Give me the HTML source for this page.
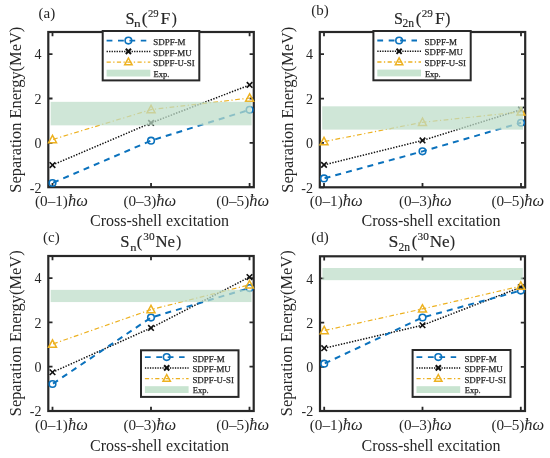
<!DOCTYPE html>
<html><head><meta charset="utf-8"><style>
html,body{margin:0;padding:0;background:#fff;}
body{width:550px;height:458px;overflow:hidden;}
svg{display:block;font-family:'Liberation Serif', serif;filter:blur(0.45px);}
</style></head><body>
<svg width="550" height="458" viewBox="0 0 550 458">
<rect width="550" height="458" fill="#fff"/>
<g>
<path d="M48.3 187.2h4.2M253.8 187.2h-4.2M48.3 142.86h4.2M253.8 142.86h-4.2M48.3 98.51h4.2M253.8 98.51h-4.2M48.3 54.17h4.2M253.8 54.17h-4.2M52.5 187.2v-4.2M52.5 32v4.2M151.05 187.2v-4.2M151.05 32v4.2M249.6 187.2v-4.2M249.6 32v4.2" stroke="#282828" stroke-width="1.8" fill="none"/>
<rect x="48.3" y="32" width="205.5" height="155.2" fill="none" stroke="#282828" stroke-width="2.2"/>
<polyline points="52.5,165.03 151.05,122.9 249.6,84.99" fill="none" stroke="#111" stroke-width="1.5" stroke-dasharray="1.4 1.45" />
<polyline points="52.5,139.53 151.05,109.6 249.6,98.07" fill="none" stroke="#edb120" stroke-width="1.2" stroke-dasharray="4.8 2.5 1.2 2.5" stroke-dashoffset="-0.6"/>
<polyline points="52.5,182.99 151.05,140.64 249.6,109.82" fill="none" stroke="#0b72bd" stroke-width="2" stroke-dasharray="6 5.1" stroke-dashoffset="-0.6"/>
<circle cx="52.5" cy="182.99" r="3.3" fill="none" stroke="#0b72bd" stroke-width="1.6"/>
<circle cx="151.05" cy="140.64" r="3.3" fill="none" stroke="#0b72bd" stroke-width="1.6"/>
<circle cx="249.6" cy="109.82" r="3.3" fill="none" stroke="#0b72bd" stroke-width="1.6"/>
<path d="M49.7 162.23L55.3 167.83M49.7 167.83L55.3 162.23" stroke="#111" stroke-width="1.6" fill="none"/>
<path d="M148.25 120.1L153.85 125.7M148.25 125.7L153.85 120.1" stroke="#111" stroke-width="1.6" fill="none"/>
<path d="M246.8 82.19L252.4 87.79M246.8 87.79L252.4 82.19" stroke="#111" stroke-width="1.6" fill="none"/>
<path d="M52.5 135.33L48.51 142.68L56.49 142.68Z" fill="none" stroke="#edb120" stroke-width="1.5" stroke-linejoin="miter"/>
<path d="M151.05 105.4L147.06 112.75L155.04 112.75Z" fill="none" stroke="#edb120" stroke-width="1.5" stroke-linejoin="miter"/>
<path d="M249.6 93.87L245.61 101.22L253.59 101.22Z" fill="none" stroke="#edb120" stroke-width="1.5" stroke-linejoin="miter"/>
<rect x="50.7" y="101.84" width="200.9" height="23.5" fill="rgb(188,220,199)" fill-opacity="0.72"/>
<text x="41.5" y="192.5" text-anchor="end" font-size="14" fill="#262626">-2</text>
<text x="41.5" y="148.16" text-anchor="end" font-size="14" fill="#262626">0</text>
<text x="41.5" y="103.81" text-anchor="end" font-size="14" fill="#262626">2</text>
<text x="41.5" y="59.47" text-anchor="end" font-size="14" fill="#262626">4</text>
<text x="35" y="205.6" font-size="15.2" fill="#262626">(0&#8211;1)<tspan font-style="italic" font-size="16.5">&#295;&#969;</tspan></text>
<text x="123.4" y="205.6" font-size="15.2" fill="#262626">(0&#8211;3)<tspan font-style="italic" font-size="16.5">&#295;&#969;</tspan></text>
<text x="216.3" y="205.6" font-size="15.2" fill="#262626">(0&#8211;5)<tspan font-style="italic" font-size="16.5">&#295;&#969;</tspan></text>
<text x="90" y="226" font-size="16" fill="#262626">Cross-shell excitation</text>
<text transform="translate(21.3 26.8) rotate(-90)" x="0" y="0" text-anchor="end" font-size="16.4" fill="#262626">Separation Energy(MeV)</text>
<text x="38.5" y="18.3" font-size="15" fill="#262626">(a)</text>
<text x="125.43" y="24.3" font-size="16" fill="#262626" textLength="9.06" lengthAdjust="spacingAndGlyphs" stroke="#262626" stroke-width="0.15">S</text>
<text x="133.95" y="26.7" font-size="11" fill="#262626" textLength="6.62" lengthAdjust="spacingAndGlyphs" stroke="#262626" stroke-width="0.15">n</text>
<text x="141.65" y="24" font-size="17" fill="#262626" textLength="5.89" lengthAdjust="spacingAndGlyphs" stroke="#262626" stroke-width="0.15">(</text>
<text x="147.94" y="17.2" font-size="10.5" fill="#262626" textLength="10.69" lengthAdjust="spacingAndGlyphs" stroke="#262626" stroke-width="0.15">29</text>
<text x="160.64" y="24.3" font-size="16" fill="#262626" textLength="9.74" lengthAdjust="spacingAndGlyphs" stroke="#262626" stroke-width="0.15">F</text>
<text x="171.65" y="24" font-size="17" fill="#262626" textLength="5.09" lengthAdjust="spacingAndGlyphs" stroke="#262626" stroke-width="0.15">)</text>
<rect x="102.7" y="31" width="96.6" height="49.4" fill="#fff" stroke="#282828" stroke-width="2"/>
<path d="M106.6 40.6H146.3" stroke="#0b72bd" stroke-width="1.8" stroke-dasharray="5.8 5.6" fill="none"/>
<circle cx="128.4" cy="40.6" r="3.3" fill="none" stroke="#0b72bd" stroke-width="1.6"/>
<path d="M106.6 51.4H150.3" stroke="#111" stroke-width="1.5" stroke-dasharray="1.3 1.2" fill="none"/>
<path d="M125.8 48.8L131 54M125.8 54L131 48.8" stroke="#111" stroke-width="2" fill="none"/>
<path d="M106.6 62.1H150.3" stroke="#edb120" stroke-width="1.3" stroke-dasharray="4.2 2.4 1.3 2.4" fill="none"/>
<path d="M128.4 58L124.7 64.83L132.11 64.83Z" fill="none" stroke="#edb120" stroke-width="1.5" stroke-linejoin="miter"/>
<rect x="106.6" y="69.7" width="43.7" height="6.8" fill="rgb(200,228,208)"/>
<text x="153.22" y="45" font-size="8.6" fill="#262626" textLength="32.33" lengthAdjust="spacingAndGlyphs" stroke="#262626" stroke-width="0.25">SDPF-M</text>
<text x="153.22" y="55.5" font-size="8.6" fill="#262626" textLength="38.36" lengthAdjust="spacingAndGlyphs" stroke="#262626" stroke-width="0.25">SDPF-MU</text>
<text x="153.22" y="66.1" font-size="8.6" fill="#262626" textLength="41.48" lengthAdjust="spacingAndGlyphs" stroke="#262626" stroke-width="0.25">SDPF-U-SI</text>
<text x="153.55" y="76.8" font-size="8.6" fill="#262626" textLength="15.81" lengthAdjust="spacingAndGlyphs" stroke="#262626" stroke-width="0.25">Exp.</text>
</g>
<g>
<path d="M319.8 187.3h4.2M525.2 187.3h-4.2M319.8 142.93h4.2M525.2 142.93h-4.2M319.8 98.56h4.2M525.2 98.56h-4.2M319.8 54.19h4.2M525.2 54.19h-4.2M324 187.3v-4.2M324 32v4.2M422.5 187.3v-4.2M422.5 32v4.2M521 187.3v-4.2M521 32v4.2" stroke="#282828" stroke-width="1.8" fill="none"/>
<rect x="319.8" y="32" width="205.4" height="155.3" fill="none" stroke="#282828" stroke-width="2.2"/>
<polyline points="324,164.89 422.5,140.49 521,109.65" fill="none" stroke="#111" stroke-width="1.5" stroke-dasharray="1.4 1.45" />
<polyline points="324,141.6 422.5,122.3 521,111.87" fill="none" stroke="#edb120" stroke-width="1.2" stroke-dasharray="4.8 2.5 1.2 2.5" stroke-dashoffset="-0.6"/>
<polyline points="324,178.43 422.5,151.36 521,122.74" fill="none" stroke="#0b72bd" stroke-width="2" stroke-dasharray="6 5.1" stroke-dashoffset="-0.6"/>
<circle cx="324" cy="178.43" r="3.3" fill="none" stroke="#0b72bd" stroke-width="1.6"/>
<circle cx="422.5" cy="151.36" r="3.3" fill="none" stroke="#0b72bd" stroke-width="1.6"/>
<circle cx="521" cy="122.74" r="3.3" fill="none" stroke="#0b72bd" stroke-width="1.6"/>
<path d="M321.2 162.09L326.8 167.69M321.2 167.69L326.8 162.09" stroke="#111" stroke-width="1.6" fill="none"/>
<path d="M419.7 137.69L425.3 143.29M419.7 143.29L425.3 137.69" stroke="#111" stroke-width="1.6" fill="none"/>
<path d="M518.2 106.85L523.8 112.45M518.2 112.45L523.8 106.85" stroke="#111" stroke-width="1.6" fill="none"/>
<path d="M324 137.4L320.01 144.75L327.99 144.75Z" fill="none" stroke="#edb120" stroke-width="1.5" stroke-linejoin="miter"/>
<path d="M422.5 118.1L418.51 125.45L426.49 125.45Z" fill="none" stroke="#edb120" stroke-width="1.5" stroke-linejoin="miter"/>
<path d="M521 107.67L517.01 115.02L524.99 115.02Z" fill="none" stroke="#edb120" stroke-width="1.5" stroke-linejoin="miter"/>
<rect x="322.2" y="106.32" width="200.8" height="23.3" fill="rgb(188,220,199)" fill-opacity="0.72"/>
<text x="313" y="192.6" text-anchor="end" font-size="14" fill="#262626">-2</text>
<text x="313" y="148.23" text-anchor="end" font-size="14" fill="#262626">0</text>
<text x="313" y="103.86" text-anchor="end" font-size="14" fill="#262626">2</text>
<text x="313" y="59.49" text-anchor="end" font-size="14" fill="#262626">4</text>
<text x="309.8" y="205.6" font-size="15.2" fill="#262626">(0&#8211;1)<tspan font-style="italic" font-size="16.5">&#295;&#969;</tspan></text>
<text x="398.9" y="205.6" font-size="15.2" fill="#262626">(0&#8211;3)<tspan font-style="italic" font-size="16.5">&#295;&#969;</tspan></text>
<text x="491.4" y="205.6" font-size="15.2" fill="#262626">(0&#8211;5)<tspan font-style="italic" font-size="16.5">&#295;&#969;</tspan></text>
<text x="361.5" y="226" font-size="16" fill="#262626">Cross-shell excitation</text>
<text transform="translate(292.8 26.8) rotate(-90)" x="0" y="0" text-anchor="end" font-size="16.4" fill="#262626">Separation Energy(MeV)</text>
<text x="311.2" y="15" font-size="15" fill="#262626">(b)</text>
<text x="394.03" y="24.3" font-size="16" fill="#262626" textLength="8.96" lengthAdjust="spacingAndGlyphs" stroke="#262626" stroke-width="0.15">S</text>
<text x="402.59" y="26.7" font-size="11.5" fill="#262626" textLength="11.58" lengthAdjust="spacingAndGlyphs" stroke="#262626" stroke-width="0.15">2n</text>
<text x="415.85" y="24" font-size="17" fill="#262626" textLength="5.69" lengthAdjust="spacingAndGlyphs" stroke="#262626" stroke-width="0.15">(</text>
<text x="421.84" y="17.2" font-size="10.5" fill="#262626" textLength="11.09" lengthAdjust="spacingAndGlyphs" stroke="#262626" stroke-width="0.15">29</text>
<text x="434.94" y="24.3" font-size="16" fill="#262626" textLength="9.74" lengthAdjust="spacingAndGlyphs" stroke="#262626" stroke-width="0.15">F</text>
<text x="445.15" y="24" font-size="17" fill="#262626" textLength="5.09" lengthAdjust="spacingAndGlyphs" stroke="#262626" stroke-width="0.15">)</text>
<rect x="373.4" y="31" width="97.3" height="49.3" fill="#fff" stroke="#282828" stroke-width="2"/>
<path d="M377.3 40.5H417" stroke="#0b72bd" stroke-width="1.8" stroke-dasharray="5.8 5.6" fill="none"/>
<circle cx="399.1" cy="40.5" r="3.3" fill="none" stroke="#0b72bd" stroke-width="1.6"/>
<path d="M377.3 51.3H421" stroke="#111" stroke-width="1.5" stroke-dasharray="1.3 1.2" fill="none"/>
<path d="M396.5 48.7L401.7 53.9M396.5 53.9L401.7 48.7" stroke="#111" stroke-width="2" fill="none"/>
<path d="M377.3 62H421" stroke="#edb120" stroke-width="1.3" stroke-dasharray="4.2 2.4 1.3 2.4" fill="none"/>
<path d="M399.1 57.9L395.39 64.72L402.8 64.72Z" fill="none" stroke="#edb120" stroke-width="1.5" stroke-linejoin="miter"/>
<rect x="377.3" y="69.6" width="43.7" height="6.8" fill="rgb(200,228,208)"/>
<text x="424.62" y="44.9" font-size="8.6" fill="#262626" textLength="32.33" lengthAdjust="spacingAndGlyphs" stroke="#262626" stroke-width="0.25">SDPF-M</text>
<text x="424.62" y="55.4" font-size="8.6" fill="#262626" textLength="38.36" lengthAdjust="spacingAndGlyphs" stroke="#262626" stroke-width="0.25">SDPF-MU</text>
<text x="424.62" y="66" font-size="8.6" fill="#262626" textLength="41.48" lengthAdjust="spacingAndGlyphs" stroke="#262626" stroke-width="0.25">SDPF-U-SI</text>
<text x="424.95" y="76.7" font-size="8.6" fill="#262626" textLength="15.81" lengthAdjust="spacingAndGlyphs" stroke="#262626" stroke-width="0.25">Exp.</text>
</g>
<g>
<path d="M48.3 411h4.2M253.7 411h-4.2M48.3 366.71h4.2M253.7 366.71h-4.2M48.3 322.43h4.2M253.7 322.43h-4.2M48.3 278.14h4.2M253.7 278.14h-4.2M52.5 411v-4.2M52.5 256v4.2M151 411v-4.2M151 256v4.2M249.5 411v-4.2M249.5 256v4.2" stroke="#282828" stroke-width="1.8" fill="none"/>
<rect x="48.3" y="256" width="205.4" height="155" fill="none" stroke="#282828" stroke-width="2.2"/>
<polyline points="52.5,372.25 151,327.96 249.5,277.04" fill="none" stroke="#111" stroke-width="1.5" stroke-dasharray="1.4 1.45" />
<polyline points="52.5,344.13 151,309.59 249.5,284.79" fill="none" stroke="#edb120" stroke-width="1.2" stroke-dasharray="4.8 2.5 1.2 2.5" stroke-dashoffset="-0.6"/>
<polyline points="52.5,383.99 151,317.56 249.5,288.11" fill="none" stroke="#0b72bd" stroke-width="2" stroke-dasharray="6 5.1" stroke-dashoffset="-0.6"/>
<circle cx="52.5" cy="383.99" r="3.3" fill="none" stroke="#0b72bd" stroke-width="1.6"/>
<circle cx="151" cy="317.56" r="3.3" fill="none" stroke="#0b72bd" stroke-width="1.6"/>
<circle cx="249.5" cy="288.11" r="3.3" fill="none" stroke="#0b72bd" stroke-width="1.6"/>
<path d="M49.7 369.45L55.3 375.05M49.7 375.05L55.3 369.45" stroke="#111" stroke-width="1.6" fill="none"/>
<path d="M148.2 325.16L153.8 330.76M148.2 330.76L153.8 325.16" stroke="#111" stroke-width="1.6" fill="none"/>
<path d="M246.7 274.24L252.3 279.84M246.7 279.84L252.3 274.24" stroke="#111" stroke-width="1.6" fill="none"/>
<path d="M52.5 339.93L48.51 347.28L56.49 347.28Z" fill="none" stroke="#edb120" stroke-width="1.5" stroke-linejoin="miter"/>
<path d="M151 305.39L147.01 312.74L154.99 312.74Z" fill="none" stroke="#edb120" stroke-width="1.5" stroke-linejoin="miter"/>
<path d="M249.5 280.59L245.51 287.94L253.49 287.94Z" fill="none" stroke="#edb120" stroke-width="1.5" stroke-linejoin="miter"/>
<rect x="50.7" y="289.88" width="200.8" height="12.18" fill="rgb(188,220,199)" fill-opacity="0.72"/>
<text x="41.5" y="416.3" text-anchor="end" font-size="14" fill="#262626">-2</text>
<text x="41.5" y="372.01" text-anchor="end" font-size="14" fill="#262626">0</text>
<text x="41.5" y="327.73" text-anchor="end" font-size="14" fill="#262626">2</text>
<text x="41.5" y="283.44" text-anchor="end" font-size="14" fill="#262626">4</text>
<text x="35" y="429.6" font-size="15.2" fill="#262626">(0&#8211;1)<tspan font-style="italic" font-size="16.5">&#295;&#969;</tspan></text>
<text x="123.4" y="429.6" font-size="15.2" fill="#262626">(0&#8211;3)<tspan font-style="italic" font-size="16.5">&#295;&#969;</tspan></text>
<text x="216.3" y="429.6" font-size="15.2" fill="#262626">(0&#8211;5)<tspan font-style="italic" font-size="16.5">&#295;&#969;</tspan></text>
<text x="90" y="451" font-size="16" fill="#262626">Cross-shell excitation</text>
<text transform="translate(21.3 250.4) rotate(-90)" x="0" y="0" text-anchor="end" font-size="16.4" fill="#262626">Separation Energy(MeV)</text>
<text x="43" y="242.3" font-size="15" fill="#262626">(c)</text>
<text x="120.23" y="247.4" font-size="16" fill="#262626" textLength="9.26" lengthAdjust="spacingAndGlyphs" stroke="#262626" stroke-width="0.15">S</text>
<text x="130.15" y="250.5" font-size="11" fill="#262626" textLength="6.22" lengthAdjust="spacingAndGlyphs" stroke="#262626" stroke-width="0.15">n</text>
<text x="136.85" y="247.1" font-size="17" fill="#262626" textLength="5.49" lengthAdjust="spacingAndGlyphs" stroke="#262626" stroke-width="0.15">(</text>
<text x="143.3" y="240.3" font-size="10.5" fill="#262626" textLength="11.3" lengthAdjust="spacingAndGlyphs" stroke="#262626" stroke-width="0.15">30</text>
<text x="155.54" y="247.4" font-size="16" fill="#262626" textLength="19.52" lengthAdjust="spacingAndGlyphs" stroke="#262626" stroke-width="0.15">Ne</text>
<text x="176.15" y="247.1" font-size="17" fill="#262626" textLength="4.99" lengthAdjust="spacingAndGlyphs" stroke="#262626" stroke-width="0.15">)</text>
<rect x="141" y="350.3" width="97.5" height="46.6" fill="#fff" stroke="#282828" stroke-width="2"/>
<path d="M144.9 357.1H184.6" stroke="#0b72bd" stroke-width="1.8" stroke-dasharray="5.8 5.6" fill="none"/>
<circle cx="166.7" cy="357.1" r="3.3" fill="none" stroke="#0b72bd" stroke-width="1.6"/>
<path d="M144.9 367.9H188.6" stroke="#111" stroke-width="1.5" stroke-dasharray="1.3 1.2" fill="none"/>
<path d="M164.1 365.3L169.3 370.5M164.1 370.5L169.3 365.3" stroke="#111" stroke-width="2" fill="none"/>
<path d="M144.9 378.6H188.6" stroke="#edb120" stroke-width="1.3" stroke-dasharray="4.2 2.4 1.3 2.4" fill="none"/>
<path d="M166.7 374.5L162.99 381.32L170.41 381.32Z" fill="none" stroke="#edb120" stroke-width="1.5" stroke-linejoin="miter"/>
<rect x="144.9" y="386.2" width="43.7" height="6.8" fill="rgb(200,228,208)"/>
<text x="192.42" y="361.5" font-size="8.6" fill="#262626" textLength="32.33" lengthAdjust="spacingAndGlyphs" stroke="#262626" stroke-width="0.25">SDPF-M</text>
<text x="192.42" y="372" font-size="8.6" fill="#262626" textLength="38.36" lengthAdjust="spacingAndGlyphs" stroke="#262626" stroke-width="0.25">SDPF-MU</text>
<text x="192.42" y="382.6" font-size="8.6" fill="#262626" textLength="41.48" lengthAdjust="spacingAndGlyphs" stroke="#262626" stroke-width="0.25">SDPF-U-SI</text>
<text x="192.75" y="393.3" font-size="8.6" fill="#262626" textLength="15.81" lengthAdjust="spacingAndGlyphs" stroke="#262626" stroke-width="0.25">Exp.</text>
</g>
<g>
<path d="M320 411h4.2M525 411h-4.2M320 366.8h4.2M525 366.8h-4.2M320 322.6h4.2M525 322.6h-4.2M320 278.4h4.2M525 278.4h-4.2M324.2 411v-4.2M324.2 256.3v4.2M422.5 411v-4.2M422.5 256.3v4.2M520.8 411v-4.2M520.8 256.3v4.2" stroke="#282828" stroke-width="1.8" fill="none"/>
<rect x="320" y="256.3" width="205" height="154.7" fill="none" stroke="#282828" stroke-width="2.2"/>
<polyline points="324.2,348.24 422.5,325.25 520.8,287.24" fill="none" stroke="#111" stroke-width="1.5" stroke-dasharray="1.4 1.45" />
<polyline points="324.2,330.56 422.5,308.9 520.8,286.13" fill="none" stroke="#edb120" stroke-width="1.2" stroke-dasharray="4.8 2.5 1.2 2.5" stroke-dashoffset="-0.6"/>
<polyline points="324.2,363.71 422.5,317.52 520.8,290.56" fill="none" stroke="#0b72bd" stroke-width="2" stroke-dasharray="6 5.1" stroke-dashoffset="-0.6"/>
<circle cx="324.2" cy="363.71" r="3.3" fill="none" stroke="#0b72bd" stroke-width="1.6"/>
<circle cx="422.5" cy="317.52" r="3.3" fill="none" stroke="#0b72bd" stroke-width="1.6"/>
<circle cx="520.8" cy="290.56" r="3.3" fill="none" stroke="#0b72bd" stroke-width="1.6"/>
<path d="M321.4 345.44L327 351.04M321.4 351.04L327 345.44" stroke="#111" stroke-width="1.6" fill="none"/>
<path d="M419.7 322.45L425.3 328.05M419.7 328.05L425.3 322.45" stroke="#111" stroke-width="1.6" fill="none"/>
<path d="M518 284.44L523.6 290.04M518 290.04L523.6 284.44" stroke="#111" stroke-width="1.6" fill="none"/>
<path d="M324.2 326.36L320.21 333.71L328.19 333.71Z" fill="none" stroke="#edb120" stroke-width="1.5" stroke-linejoin="miter"/>
<path d="M422.5 304.7L418.51 312.05L426.49 312.05Z" fill="none" stroke="#edb120" stroke-width="1.5" stroke-linejoin="miter"/>
<path d="M520.8 281.94L516.81 289.28L524.79 289.28Z" fill="none" stroke="#edb120" stroke-width="1.5" stroke-linejoin="miter"/>
<rect x="322.4" y="268.01" width="200.4" height="12.15" fill="rgb(188,220,199)" fill-opacity="0.72"/>
<text x="313.2" y="416.3" text-anchor="end" font-size="14" fill="#262626">-2</text>
<text x="313.2" y="372.1" text-anchor="end" font-size="14" fill="#262626">0</text>
<text x="313.2" y="327.9" text-anchor="end" font-size="14" fill="#262626">2</text>
<text x="313.2" y="283.7" text-anchor="end" font-size="14" fill="#262626">4</text>
<text x="309.8" y="429.6" font-size="15.2" fill="#262626">(0&#8211;1)<tspan font-style="italic" font-size="16.5">&#295;&#969;</tspan></text>
<text x="398.9" y="429.6" font-size="15.2" fill="#262626">(0&#8211;3)<tspan font-style="italic" font-size="16.5">&#295;&#969;</tspan></text>
<text x="491.4" y="429.6" font-size="15.2" fill="#262626">(0&#8211;5)<tspan font-style="italic" font-size="16.5">&#295;&#969;</tspan></text>
<text x="361.5" y="451" font-size="16" fill="#262626">Cross-shell excitation</text>
<text transform="translate(292.3 250.4) rotate(-90)" x="0" y="0" text-anchor="end" font-size="16.4" fill="#262626">Separation Energy(MeV)</text>
<text x="311.2" y="242.3" font-size="15" fill="#262626">(d)</text>
<text x="388.53" y="247.4" font-size="16" fill="#262626" textLength="9.86" lengthAdjust="spacingAndGlyphs" stroke="#262626" stroke-width="0.15">S</text>
<text x="398.59" y="250.5" font-size="11.5" fill="#262626" textLength="11.58" lengthAdjust="spacingAndGlyphs" stroke="#262626" stroke-width="0.15">2n</text>
<text x="411.85" y="247.1" font-size="17" fill="#262626" textLength="5.49" lengthAdjust="spacingAndGlyphs" stroke="#262626" stroke-width="0.15">(</text>
<text x="417.5" y="240.3" font-size="10.5" fill="#262626" textLength="11.3" lengthAdjust="spacingAndGlyphs" stroke="#262626" stroke-width="0.15">30</text>
<text x="429.74" y="247.4" font-size="16" fill="#262626" textLength="19.92" lengthAdjust="spacingAndGlyphs" stroke="#262626" stroke-width="0.15">Ne</text>
<text x="449.95" y="247.1" font-size="17" fill="#262626" textLength="4.99" lengthAdjust="spacingAndGlyphs" stroke="#262626" stroke-width="0.15">)</text>
<rect x="412.6" y="350" width="97.9" height="46.9" fill="#fff" stroke="#282828" stroke-width="2"/>
<path d="M416.5 357.1H456.2" stroke="#0b72bd" stroke-width="1.8" stroke-dasharray="5.8 5.6" fill="none"/>
<circle cx="438.3" cy="357.1" r="3.3" fill="none" stroke="#0b72bd" stroke-width="1.6"/>
<path d="M416.5 367.9H460.2" stroke="#111" stroke-width="1.5" stroke-dasharray="1.3 1.2" fill="none"/>
<path d="M435.7 365.3L440.9 370.5M435.7 370.5L440.9 365.3" stroke="#111" stroke-width="2" fill="none"/>
<path d="M416.5 378.6H460.2" stroke="#edb120" stroke-width="1.3" stroke-dasharray="4.2 2.4 1.3 2.4" fill="none"/>
<path d="M438.3 374.5L434.6 381.32L442 381.32Z" fill="none" stroke="#edb120" stroke-width="1.5" stroke-linejoin="miter"/>
<rect x="416.5" y="386.2" width="43.7" height="6.8" fill="rgb(200,228,208)"/>
<text x="464.42" y="361.5" font-size="8.6" fill="#262626" textLength="32.33" lengthAdjust="spacingAndGlyphs" stroke="#262626" stroke-width="0.25">SDPF-M</text>
<text x="464.42" y="372" font-size="8.6" fill="#262626" textLength="38.36" lengthAdjust="spacingAndGlyphs" stroke="#262626" stroke-width="0.25">SDPF-MU</text>
<text x="464.42" y="382.6" font-size="8.6" fill="#262626" textLength="41.48" lengthAdjust="spacingAndGlyphs" stroke="#262626" stroke-width="0.25">SDPF-U-SI</text>
<text x="464.75" y="393.3" font-size="8.6" fill="#262626" textLength="15.81" lengthAdjust="spacingAndGlyphs" stroke="#262626" stroke-width="0.25">Exp.</text>
</g>
</svg>
</body></html>
